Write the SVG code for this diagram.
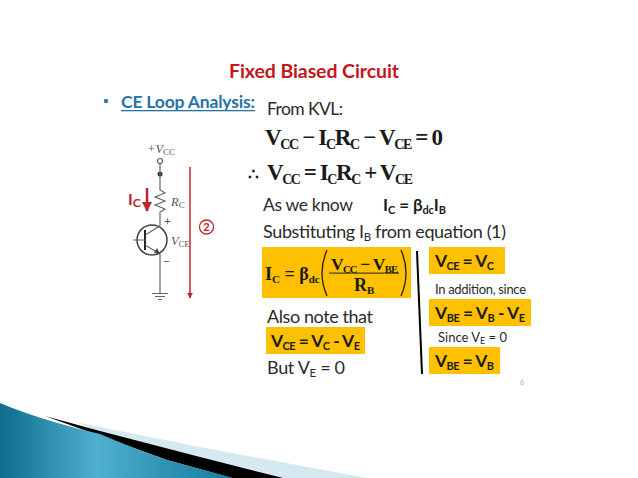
<svg xmlns="http://www.w3.org/2000/svg" width="638" height="478" viewBox="0 0 638 478">
<style>
text{font-family:"Lato","Open Sans","Liberation Sans",sans-serif;fill:#2b2b2b}
.b{font-weight:700;fill:#1c1c1c}
.t{font-family:"Liberation Serif","Times New Roman",serif;font-weight:700;fill:#1a1a1a}
.i{font-family:"Liberation Serif",serif;font-style:italic;fill:#555;font-size:12.5px}
.y{fill:#ffc000}
.w{stroke:#666;stroke-width:1.2;fill:none}
.r{stroke:#c0272d;fill:none}
</style>
<defs>
<linearGradient id="teal" x1="0" y1="0" x2="1" y2="0">
<stop offset="0" stop-color="#0e6d8c"/><stop offset="0.42" stop-color="#4fb0cf"/><stop offset="0.75" stop-color="#2a8fb0"/><stop offset="1" stop-color="#1a7d9e"/>
</linearGradient>
<marker id="ah" viewBox="0 0 10 10" refX="9" refY="5" markerWidth="4" markerHeight="4" orient="auto"><path d="M0 0L10 5L0 10Z" fill="#c0272d"/></marker>
</defs>
<rect width="638" height="478" fill="#fff"/>
<g id="footer">
<path d="M75 422L200 447L367 478H280L100 432Z" fill="#d6e8f0"/>
<path d="M45 416L100 431L200 457L283 478H232L167 460Z" fill="#000"/>
<path d="M0 403Q40 420 100 434Q135 449 167 460L233 478H0Z" fill="url(#teal)"/>
</g>
<text id="title" x="229" y="78" font-size="19.5" style="font-weight:700;fill:#c4161c" textLength="170">Fixed Biased Circuit</text>
<g id="heading">
<circle cx="106" cy="101" r="2.200" fill="#2a7ab0"/>
<text x="121" y="108" font-size="17.500" style="font-weight:700;fill:#2673a8" textLength="134">CE Loop Analysis:</text>
<rect x="121" y="110" width="134" height="1.300" fill="#2673a8"/>
</g>
<text id="kvl" x="267" y="115" font-size="17.5" textLength="76">From KVL:</text>
<g id="eq1"><text class="t" x="265" y="145" font-size="23" textLength="178">V<tspan font-size="14" dy="4">CC</tspan><tspan dy="-4"> − I</tspan><tspan font-size="14" dy="4">C</tspan><tspan dy="-4">R</tspan><tspan font-size="14" dy="4">C</tspan><tspan dy="-4"> − V</tspan><tspan font-size="14" dy="4">CE</tspan><tspan dy="-4"> = 0</tspan></text></g>
<g id="eq2"><text class="t" x="248" y="180" font-size="17">∴</text><text class="t" x="267" y="180" font-size="23" textLength="146">V<tspan font-size="14" dy="4">CC</tspan><tspan dy="-4"> = I</tspan><tspan font-size="14" dy="4">C</tspan><tspan dy="-4">R</tspan><tspan font-size="14" dy="4">C</tspan><tspan dy="-4"> + V</tspan><tspan font-size="14" dy="4">CE</tspan></text></g>
<text x="263" y="211" font-size="17.5" textLength="90">As we know</text>
<text class="b" x="383" y="211" font-size="17" textLength="63">I<tspan font-size="11" dy="3">C</tspan><tspan dy="-3"> = β</tspan><tspan font-size="11" dy="3">dc</tspan><tspan dy="-3">I</tspan><tspan font-size="11" dy="3">B</tspan></text>
<text x="263" y="238" font-size="18" textLength="243">Substituting I<tspan font-size="11.500" dy="3">B</tspan><tspan dy="-3"> from equation (1)</tspan></text>
<g id="formula">
<rect class="y" x="262" y="247" width="149" height="51"/>
<text class="t" x="265" y="280" font-size="18">I<tspan font-size="11" dy="3">C</tspan><tspan dy="-3"> = β</tspan><tspan font-size="11" dy="3">dc</tspan></text>
<path d="M327 250Q317 273 327 296M401 250Q411 273 401 296" fill="none" stroke="#222" stroke-width="1.300"/>
<text class="t" x="331" y="270" font-size="17.5" textLength="67">V<tspan font-size="10.500" dy="3">CC</tspan><tspan dy="-3"> − V</tspan><tspan font-size="10.500" dy="3">BE</tspan></text>
<rect x="329" y="272.600" width="70" height="1" fill="#222"/>
<text class="t" x="354" y="291" font-size="18">R<tspan font-size="11" dy="3">B</tspan></text>
</g>
<g id="box-vce-vc"><rect class="y" x="429" y="247" width="76" height="27"/><text class="b" x="435" y="267" font-size="17.5" textLength="59">V<tspan font-size="11" dy="3">CE</tspan><tspan dy="-3"> = V</tspan><tspan font-size="11" dy="3">C</tspan></text></g>
<text x="435" y="294" font-size="13" textLength="91">In addition, since</text>
<g id="box-vbe"><rect class="y" x="429" y="299" width="102" height="27"/><text class="b" x="435" y="319" font-size="17.5" textLength="90">V<tspan font-size="11" dy="3">BE</tspan><tspan dy="-3"> = V</tspan><tspan font-size="11" dy="3">B</tspan><tspan dy="-3"> - V</tspan><tspan font-size="11" dy="3">E</tspan></text></g>
<text x="438" y="342" font-size="13" textLength="69">Since   V<tspan font-size="9" dy="2">E</tspan><tspan dy="-2"> = 0</tspan></text>
<g id="box-vbe-vb"><rect class="y" x="429" y="347" width="71" height="27"/><text class="b" x="435" y="367" font-size="17.5" textLength="59">V<tspan font-size="11" dy="3">BE</tspan><tspan dy="-3"> = V</tspan><tspan font-size="11" dy="3">B</tspan></text></g>
<text x="267" y="323" font-size="18" textLength="106">Also note that</text>
<g id="box-vce"><rect class="y" x="266" y="327" width="99" height="27"/><text class="b" x="271" y="347" font-size="17.5" textLength="89">V<tspan font-size="11" dy="3">CE</tspan><tspan dy="-3"> = V</tspan><tspan font-size="11" dy="3">C</tspan><tspan dy="-3"> - V</tspan><tspan font-size="11" dy="3">E</tspan></text></g>
<text x="267" y="374" font-size="18" textLength="78">But  V<tspan font-size="11.500" dy="3">E</tspan><tspan dy="-3"> = 0</tspan></text>
<path id="divider" d="M417 251L422 374" stroke="#000" stroke-width="2"/>
<text x="520" y="385" font-size="7" style="fill:#aaa">6</text>
<g id="circuit">
<text class="i" x="147" y="153">+V<tspan font-size="9" dy="2" font-style="normal">CC</tspan></text>
<circle class="w" cx="160" cy="161" r="2.500"/>
<circle cx="160" cy="174" r="2.500" fill="#333"/>
<path class="w" d="M160 163.500V190L165 193L155 197L165 201L155 205L165 209L160 212V226M160 254V293"/>
<circle cx="152" cy="240" r="15" fill="none" stroke="#444" stroke-width="1.500"/>
<path d="M145 230V250" stroke="#222" stroke-width="2"/>
<path class="w" d="M133 240H145M145 235L160 226M145 245L160 254"/>
<path d="M160 254L154 253L157 248Z" fill="#444"/>
<path class="w" d="M152 293.500H168M155 296.500H165M158 299.500H162"/>
<text class="i" x="171" y="206">R<tspan font-size="9" dy="2" font-style="normal">C</tspan></text>
<text x="164" y="225" font-size="12" style="fill:#555">+</text>
<text class="i" x="171" y="245">V<tspan font-size="8.500" dy="2" font-style="normal">CE</tspan></text>
<text x="163" y="265" font-size="12" style="fill:#555">−</text>
</g>
<g id="connectors">
<path class="r" d="M190 167V298" stroke-width="1.500" marker-end="url(#ah)"/>
<path class="r" d="M147 188V211" stroke-width="2.500" marker-end="url(#ah)"/>
</g>
<g id="ic-label"><text x="128" y="205" font-size="16" style="font-weight:700;fill:#b3242a">I<tspan font-size="12" dy="2">C</tspan></text></g>
<g id="loop-2"><circle class="r" cx="206.500" cy="227" r="7" stroke-width="1.300"/><text x="206.500" y="231" font-size="11" text-anchor="middle" style="font-weight:700;fill:#b3242a">2</text></g>
</svg>
